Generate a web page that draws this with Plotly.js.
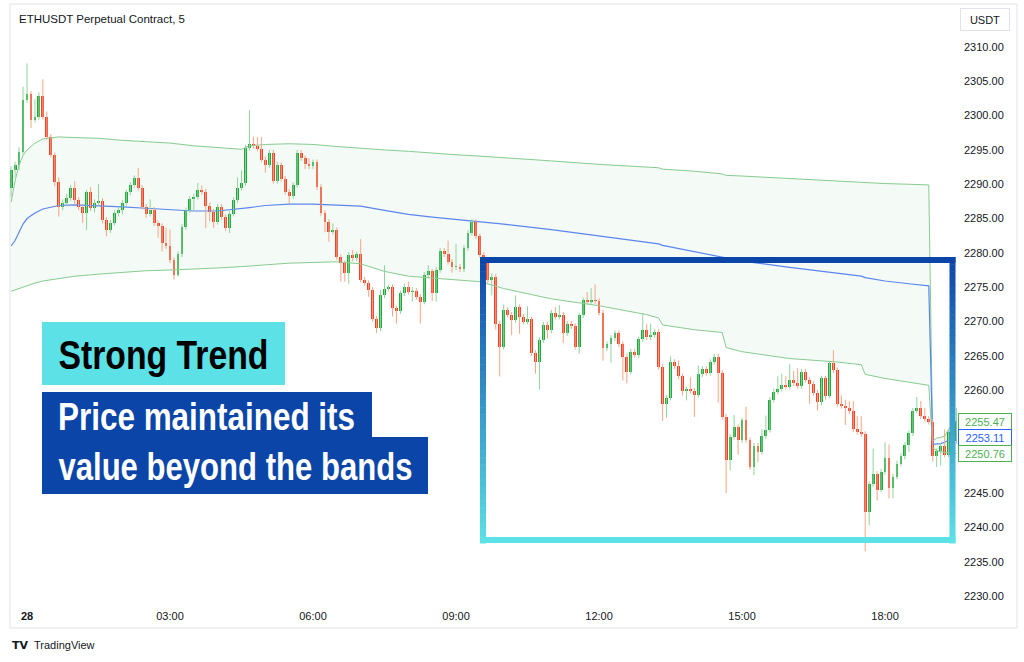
<!DOCTYPE html>
<html><head><meta charset="utf-8">
<script src="https://cdn.plot.ly/plotly-3.0.1.min.js"></script>
<style>html,body{margin:0;padding:0;background:#fff;}#chart{width:1024px;height:662px;}</style>
</head><body><div id="chart"></div>
<script>
// ---------- DATA ----------
const startHour = -20/60;      // first candle 23:40 of the previous day
const stepHour = 5/60;         // 5-minute candles
const opens = [2289.4,2292.1,2292.8,2294.7,2302.3,2303.1,2299.4,2299.8,2302.9,2299.8,
 2296.9,2294.3,2290.4,2286.7,2287.2,2288.0,2289.5,2287.7,2286.7,2285.8,
 2288.8,2286.5,2287.3,2287.6,2284.8,2283.4,2284.4,2285.8,2286.3,2287.3,
 2288.8,2289.9,2290.9,2289.5,2286.7,2285.7,2286.3,2284.3,2283.9,2281.4,
 2281.0,2278.9,2276.8,2279.8,2283.8,2286.2,2287.9,2288.2,2289.2,2288.9,
 2286.9,2286.0,2284.5,2286.7,2285.2,2283.6,2285.7,2287.7,2289.5,2290.2,
 2295.3,2295.9,2295.6,2295.2,2293.6,2292.8,2294.6,2290.5,2292.8,2290.8,
 2288.9,2288.3,2289.9,2294.6,2293.8,2292.9,2292.6,2293.2,2289.6,2285.8,
 2284.5,2283.1,2283.3,2279.4,2278.5,2277.0,2279.7,2279.2,2279.8,2276.1,
 2275.6,2274.6,2270.4,2269.0,2273.8,2274.8,2275.0,2271.9,2271.5,2274.1,
 2275.1,2274.3,2274.5,2273.6,2272.9,2276.8,2277.3,2274.1,2277.5,2280.3,
 2279.8,2278.7,2277.9,2278.0,2277.6,2280.7,2282.9,2284.5,2282.4,2279.7,
 2278.9,2276.0,2276.5,2269.7,2266.3,2271.7,2271.0,2270.2,2272.1,2270.7,
 2270.0,2270.3,2265.4,2264.1,2267.3,2269.5,2268.7,2271.3,2270.7,2271.0,
 2268.3,2269.7,2269.3,2266.3,2270.9,2273.1,2272.9,2273.1,2273.0,2271.3,
 2266.1,2266.7,2267.6,2268.3,2266.7,2264.9,2262.7,2265.6,2265.1,2267.4,
 2268.7,2267.7,2268.0,2268.5,2263.4,2258.0,2258.9,2264.1,2263.5,2262.0,
 2259.9,2260.1,2259.9,2259.3,2262.3,2263.1,2262.5,2264.1,2264.9,2262.5,
 2256.1,2249.8,2253.2,2254.6,2252.7,2255.6,2252.7,2248.8,2251.9,2251.0,
 2253.3,2254.2,2258.6,2259.8,2260.2,2260.8,2260.5,2261.5,2261.0,2260.6,
 2262.7,2261.5,2260.9,2259.6,2258.2,2261.7,2259.2,2263.9,2262.9,2258.0,
 2257.7,2257.4,2256.9,2254.3,2253.9,2253.6,2242.2,2246.3,2247.8,2245.5,
 2248.1,2250.1,2245.7,2247.4,2249.3,2250.4,2252.0,2253.7,2257.0,2257.4,
 2256.2,2255.8,2255.4,2250.4,2251.1,2251.9,2250.6,2253.9,2252.6];
const highs = [2292.6,2293.3,2295.4,2304.2,2307.6,2303.6,2302.4,2303.4,2305.3,2300.6,
 2297.3,2294.6,2291.0,2287.8,2288.6,2289.9,2290.4,2288.1,2287.1,2289.2,
 2289.6,2287.8,2290.0,2288.0,2285.2,2284.8,2286.2,2286.8,2287.7,2289.2,
 2290.3,2291.3,2292.4,2289.9,2287.1,2287.8,2286.7,2284.7,2284.3,2283.7,
 2283.4,2279.3,2280.2,2284.2,2286.6,2288.3,2288.6,2290.2,2289.8,2289.3,
 2287.3,2286.4,2287.1,2287.1,2285.6,2286.1,2288.1,2291.0,2292.0,2295.7,
 2300.8,2296.9,2296.9,2296.9,2294.0,2295.0,2295.0,2293.3,2293.2,2291.2,
 2289.3,2290.3,2295.0,2295.0,2294.2,2293.8,2293.6,2293.6,2290.0,2286.2,
 2284.9,2284.3,2283.7,2279.8,2278.9,2280.1,2280.4,2280.2,2282.0,2276.5,
 2276.0,2275.0,2270.8,2274.6,2278.2,2275.4,2275.4,2272.3,2274.5,2275.5,
 2275.8,2275.0,2274.9,2274.0,2277.2,2278.2,2277.7,2277.9,2280.7,2280.7,
 2281.8,2279.1,2281.3,2278.4,2281.1,2283.3,2284.9,2284.9,2282.8,2280.1,
 2279.3,2277.0,2276.9,2270.1,2272.5,2272.1,2271.4,2273.8,2272.5,2271.1,
 2272.2,2270.7,2265.8,2267.7,2269.9,2269.9,2271.7,2272.1,2272.4,2271.4,
 2270.1,2270.1,2269.7,2271.3,2273.5,2274.3,2274.9,2275.4,2273.4,2271.7,
 2267.1,2268.0,2268.7,2268.7,2267.1,2265.3,2266.0,2266.0,2267.8,2271.2,
 2269.6,2269.7,2268.9,2268.9,2263.8,2259.3,2264.9,2264.5,2264.3,2262.4,
 2260.5,2261.9,2260.3,2263.6,2263.5,2263.5,2264.5,2265.3,2265.3,2262.9,
 2256.5,2253.6,2256.4,2255.0,2256.0,2257.6,2253.1,2252.3,2252.3,2254.3,
 2256.3,2259.0,2260.2,2262.0,2262.4,2262.0,2263.8,2262.8,2263.2,2263.1,
 2263.1,2261.9,2261.3,2260.0,2262.1,2262.1,2264.3,2265.8,2263.3,2259.2,
 2258.6,2258.4,2258.4,2256.2,2256.2,2254.0,2246.7,2251.5,2248.2,2248.5,
 2252.4,2252.1,2247.8,2249.7,2250.8,2252.4,2254.1,2257.4,2259.0,2258.4,
 2257.4,2256.2,2255.8,2251.5,2252.3,2254.3,2254.3,2255.3,2257.4];
const lows = [2288.1,2291.0,2292.0,2294.3,2301.9,2298.2,2299.0,2299.4,2299.4,2296.5,
 2293.9,2289.7,2285.3,2286.2,2286.8,2287.6,2287.0,2286.2,2284.4,2283.3,
 2286.1,2285.9,2286.9,2284.3,2282.4,2282.9,2284.0,2285.3,2285.6,2286.9,
 2288.4,2289.5,2289.1,2286.3,2285.1,2285.3,2283.9,2282.2,2280.2,2280.6,
 2278.5,2276.1,2276.5,2279.4,2283.4,2285.8,2286.2,2287.8,2288.5,2283.6,
 2284.6,2283.6,2284.1,2284.8,2283.2,2282.9,2285.3,2287.3,2289.1,2289.8,
 2294.9,2295.2,2294.8,2293.2,2291.7,2292.4,2290.1,2290.1,2290.4,2288.5,
 2287.2,2287.9,2289.5,2293.4,2292.2,2292.2,2292.2,2289.2,2285.4,2283.0,
 2281.6,2282.7,2279.0,2275.8,2275.8,2275.5,2278.8,2278.8,2275.7,2275.2,
 2273.6,2270.0,2268.3,2268.6,2273.4,2274.4,2270.7,2269.7,2271.1,2273.7,
 2273.9,2272.9,2273.2,2269.7,2272.5,2276.4,2273.0,2272.9,2277.1,2279.4,
 2278.3,2277.1,2277.5,2277.2,2277.2,2280.3,2282.5,2282.0,2279.3,2278.2,
 2275.5,2273.8,2268.8,2262.0,2265.9,2270.6,2268.0,2269.8,2268.2,2269.6,
 2269.6,2265.0,2262.4,2260.1,2266.9,2267.5,2268.3,2270.3,2270.3,2266.9,
 2267.9,2268.9,2265.9,2265.3,2270.5,2272.5,2272.5,2272.6,2270.9,2264.3,
 2265.7,2264.0,2267.2,2266.3,2261.4,2261.0,2262.3,2264.7,2264.7,2267.0,
 2267.3,2267.3,2267.6,2263.0,2255.5,2256.0,2258.5,2263.1,2261.6,2259.2,
 2258.5,2259.5,2256.1,2258.9,2261.9,2262.1,2262.1,2263.7,2258.2,2255.7,
 2245.0,2248.3,2252.8,2250.6,2252.3,2252.3,2248.4,2247.6,2249.5,2250.6,
 2252.9,2253.8,2258.2,2259.4,2259.8,2260.1,2260.1,2260.6,2260.2,2260.2,
 2261.1,2258.0,2259.2,2257.0,2257.8,2258.6,2258.8,2262.5,2257.6,2257.3,
 2254.9,2256.5,2253.9,2253.5,2253.2,2236.5,2240.3,2245.9,2243.9,2245.1,
 2247.7,2244.2,2244.2,2247.0,2248.9,2249.9,2251.0,2253.3,2256.6,2255.8,
 2255.4,2255.0,2249.6,2248.8,2249.0,2250.2,2250.2,2252.2,2252.2];
const closes = [2292.1,2292.8,2294.7,2302.3,2303.1,2299.4,2299.8,2302.9,2299.8,2296.9,
 2294.3,2290.4,2286.7,2287.2,2288.0,2289.5,2287.7,2286.7,2285.8,2288.8,
 2286.5,2287.3,2287.6,2284.8,2283.4,2284.4,2285.8,2286.3,2287.3,2288.8,
 2289.9,2290.9,2289.5,2286.7,2285.7,2286.3,2284.3,2283.9,2281.4,2281.0,
 2278.9,2276.8,2279.8,2283.8,2286.2,2287.9,2288.2,2289.2,2288.9,2286.9,
 2286.0,2284.5,2286.7,2285.2,2283.6,2285.7,2287.7,2289.5,2290.2,2295.3,
 2295.9,2295.6,2295.2,2293.6,2292.8,2294.6,2290.5,2292.8,2290.8,2288.9,
 2288.3,2289.9,2294.6,2293.8,2292.9,2292.6,2293.2,2289.6,2285.8,2284.5,
 2283.1,2283.3,2279.4,2278.5,2277.0,2279.7,2279.2,2279.8,2276.1,2275.6,
 2274.6,2270.4,2269.0,2273.8,2274.8,2275.0,2271.9,2271.5,2274.1,2275.1,
 2274.3,2274.5,2273.6,2272.9,2276.8,2277.3,2274.1,2277.5,2280.3,2279.8,
 2278.7,2277.9,2278.0,2277.6,2280.7,2282.9,2284.5,2282.4,2279.7,2278.9,
 2276.0,2276.5,2269.7,2266.3,2271.7,2271.0,2270.2,2272.1,2270.7,2270.0,
 2270.3,2265.4,2264.1,2267.3,2269.5,2268.7,2271.3,2270.7,2271.0,2268.3,
 2269.7,2269.3,2266.3,2270.9,2273.1,2272.9,2273.1,2273.0,2271.3,2266.1,
 2266.7,2267.6,2268.3,2266.7,2264.9,2262.7,2265.6,2265.1,2267.4,2268.7,
 2267.7,2268.0,2268.5,2263.4,2258.0,2258.9,2264.1,2263.5,2262.0,2259.9,
 2260.1,2259.9,2259.3,2262.3,2263.1,2262.5,2264.1,2264.9,2262.5,2256.1,
 2249.8,2253.2,2254.6,2252.7,2255.6,2252.7,2248.8,2251.9,2251.0,2253.3,
 2254.2,2258.6,2259.8,2260.2,2260.8,2260.5,2261.5,2261.0,2260.6,2262.7,
 2261.5,2260.9,2259.6,2258.2,2261.7,2259.2,2263.9,2262.9,2258.0,2257.7,
 2257.4,2256.9,2254.3,2253.9,2253.6,2242.2,2246.3,2247.8,2245.5,2248.1,
 2250.1,2245.7,2247.4,2249.3,2250.4,2252.0,2253.7,2257.0,2257.4,2256.2,
 2255.8,2255.4,2250.4,2251.1,2251.9,2250.6,2253.9,2252.6,2255.47];

// VWAP and its bands (anchored; session resets at 19:00)
const bandT = [-0.333,-0.25,-0.167,-0.083,0,0.167,0.333,0.667,1,1.5,
 2,2.5,3,3.5,4,4.5,4.667,5,5.5,6,
 6.5,7,7.5,8,8.5,9,9.5,10,11,12,
 13,13.25,13.333,14,14.583,14.667,15,16,17,17.5,
 17.583,18,18.5,18.917,19,19.083,19.167,19.25,19.333,19.417,19.5];
const bandUpper = [2287.4,2290.5,2292.8,2294.2,2295.0,2296.0,2296.6,2296.9,2296.8,2296.7,
 2296.4,2296.2,2296.0,2295.6,2295.3,2295.1,2295.6,2295.8,2295.9,2295.8,
 2295.5,2295.2,2295.0,2294.8,2294.5,2294.3,2294.1,2293.9,2293.4,2292.9,
 2292.5,2292.4,2292.2,2291.9,2291.5,2291.3,2291.2,2290.8,2290.5,2290.3,
 2290.2,2290.1,2290.0,2289.9,2252.6,2253.0,2253.1,2253.3,2254.3,2255.0,2255.47];
const bandVwap = [2281.0,2281.8,2283.0,2284.2,2285.0,2285.8,2286.4,2286.9,2287.0,2286.9,
 2286.7,2286.5,2286.3,2286.1,2286.1,2286.4,2286.6,2286.9,2287.1,2287.1,
 2287.0,2286.8,2286.2,2285.6,2285.2,2284.9,2284.6,2284.2,2283.4,2282.5,
 2281.5,2281.3,2281.1,2280.2,2279.4,2279.2,2278.8,2277.9,2277.1,2276.6,
 2276.4,2275.9,2275.5,2275.2,2252.1,2252.1,2252.2,2252.4,2252.7,2253.0,2253.11];
const bandLower = [2274.4,2274.6,2274.9,2275.1,2275.3,2275.6,2275.9,2276.3,2276.6,2276.9,
 2277.2,2277.4,2277.5,2277.6,2277.8,2278.0,2278.1,2278.3,2278.5,2278.6,
 2278.7,2278.4,2277.3,2276.6,2276.3,2276.1,2275.8,2274.8,2273.3,2272.3,
 2271.0,2270.5,2269.5,2268.8,2268.4,2266.2,2265.6,2264.6,2264.1,2263.7,
 2262.3,2261.7,2261.1,2260.7,2251.6,2251.2,2251.0,2250.9,2250.8,2250.8,2250.76];

const xTickVals = [0,3,6,9,12,15,18];
const xTickText = ['<b>28</b>','03:00','06:00','09:00','12:00','15:00','18:00'];
const yTickVals = [2230,2235,2240,2245,2250,2255,2260,2265,2270,2275,2280,2285,2290,2295,2300,2305,2310];
const hiddenTicks = [2250, 2255];   // covered by the last-value labels
const lastLabels = [
  {value: 2255.47, color: '#4caf50'},
  {value: 2253.11, color: '#2962ff'},
  {value: 2250.76, color: '#4caf50'}
];

// ---------- STYLE / LAYOUT ----------
const UP = '#1fa83b', DN = '#f2402c', WUP = '#8fd49c', WDN = '#f7a583';
const L = 10, R = 957, T = 8, B = 604;
const px = x => (x - L) / (R - L);
const py = y => (B - y) / (B - T);

const times = closes.map((_, i) => startHour + i * stepHour);

function wickTrace(up) {
  const xs = [], ys = [];
  closes.forEach((c, i) => {
    if ((c >= opens[i]) === up) { xs.push(times[i], times[i], null); ys.push(lows[i], highs[i], null); }
  });
  return {type: 'scatter', mode: 'lines', x: xs, y: ys, hoverinfo: 'skip',
          line: {color: up ? WUP : WDN, width: 1}, showlegend: false};
}

const bodyBase = closes.map((c, i) => Math.min(c, opens[i]));
const bodyLen = closes.map((c, i) => Math.max(Math.abs(c - opens[i]), 0.12));
const bodyCol = closes.map((c, i) => c >= opens[i] ? UP : DN);

const traces = [
  {type: 'scatter', mode: 'lines', x: bandT, y: bandUpper, line: {color: '#86cc8f', width: 1}, hoverinfo: 'skip', showlegend: false},
  {type: 'scatter', mode: 'lines', x: bandT, y: bandLower, line: {color: '#86cc8f', width: 1}, fill: 'tonexty',
   fillcolor: 'rgba(76,175,80,0.06)', hoverinfo: 'skip', showlegend: false},
  {type: 'scatter', mode: 'lines', x: bandT, y: bandVwap, line: {color: '#5b86ee', width: 1.2}, hoverinfo: 'skip', showlegend: false},
  wickTrace(true), wickTrace(false),
  {type: 'bar', x: times, y: bodyLen, base: bodyBase, width: stepHour * 0.72,
   marker: {color: bodyCol, line: {width: 0}}, hoverinfo: 'skip', showlegend: false}
];

// gradient box
function mix(a, b, f) {
  const pa = [1,3,5].map(k => parseInt(a.substr(k,2),16)), pb = [1,3,5].map(k => parseInt(b.substr(k,2),16));
  return 'rgb(' + pa.map((v, j) => Math.round(v + (pb[j] - v) * f)).join(',') + ')';
}
const BOX_TOP = '#0c45a8', BOX_BOT = '#5ce1e6';
const shapes = [];
function rectPx(x0, y0, x1, y1, color, layer) {
  shapes.push({type: 'rect', xref: 'paper', yref: 'paper', x0: px(x0), x1: px(x1), y0: py(y1), y1: py(y0),
               fillcolor: color, line: {width: 0}, layer: layer || 'above'});
}
shapes.push({type: 'rect', xref: 'paper', yref: 'paper', x0: px(10), x1: px(1017), y0: py(628), y1: py(4),
             line: {color: '#e0e3eb', width: 1}, fillcolor: 'rgba(0,0,0,0)', layer: 'below'});
const N = 40, yTop = 257, yBot = 543;
for (let k = 0; k < N; k++) {
  const y0 = yTop + (yBot - yTop) * k / N, y1 = yTop + (yBot - yTop) * (k + 1) / N + 0.5;
  const col = mix(BOX_TOP, BOX_BOT, (k + 0.5) / N);
  rectPx(480, y0, 486, y1, col);
  rectPx(949.5, y0, 955.5, y1, col);
}
rectPx(480, 257, 955.5, 263, BOX_TOP);
rectPx(480, 537, 955.5, 543, BOX_BOT);
rectPx(42, 322, 285, 385, '#5ce1e6');
rectPx(42, 392, 372, 494, '#0c45a8');
rectPx(42, 437, 428, 494, '#0c45a8');

// big captions: [text, left px, centre y px, target width px, size, colour]
const captions = [
  ['Strong Trend', 58, 355, 210, 40, '#000000'],
  ['Price maintained its', 58, 417, 297, 38, '#ffffff'],
  ['value beyond the bands', 58, 467, 354, 38, '#ffffff']
];
const annotations = [
  {xref: 'paper', yref: 'paper', x: px(17), y: py(19), xanchor: 'left', yanchor: 'middle', showarrow: false,
   text: 'ETHUSDT Perpetual Contract, 5', font: {family: 'Liberation Sans, sans-serif', size: 11.5, color: '#131722'}},
  {xref: 'paper', yref: 'paper', x: px(985), y: py(19.5), xanchor: 'center', yanchor: 'middle', showarrow: false,
   text: 'USDT', width: 46, height: 19, bordercolor: '#e0e3eb', borderwidth: 1, borderpad: 1, bgcolor: '#fff',
   font: {family: 'Liberation Sans, sans-serif', size: 11, color: '#131722'}},
  {xref: 'paper', yref: 'paper', x: px(10), y: py(645), xanchor: 'left', yanchor: 'middle', showarrow: false,
   text: '<b>TV</b>', font: {family: 'DejaVu Sans, sans-serif', size: 11, color: '#131722'}},
  {xref: 'paper', yref: 'paper', x: px(32), y: py(645), xanchor: 'left', yanchor: 'middle', showarrow: false,
   text: 'TradingView', font: {family: 'Liberation Sans, sans-serif', size: 11, color: '#131722'}}
];
const capStart = annotations.length;
captions.forEach(c => annotations.push({
  xref: 'paper', yref: 'paper', x: px(c[1] + c[3] / 2), y: py(c[2]), xanchor: 'center', yanchor: 'middle', showarrow: false,
  text: c[0], font: {family: 'Liberation Sans, Arial, sans-serif', size: c[4], color: c[5], weight: 700}
}));
lastLabels.forEach(l => annotations.push({
  xref: 'paper', yref: 'y', x: 1, y: l.value, xanchor: 'left', yanchor: 'middle', xshift: 1, showarrow: false,
  text: l.value.toFixed(2), width: 50, height: 13, borderpad: 1, bgcolor: '#ffffff', bordercolor: l.color, borderwidth: 1,
  font: {family: 'Liberation Sans, sans-serif', size: 11, color: l.color}
}));

const layout = {
  width: 1024, height: 662,
  margin: {l: L, r: 1024 - R, t: T, b: 662 - B, pad: 0},
  paper_bgcolor: '#ffffff', plot_bgcolor: '#ffffff',
  showlegend: false, bargap: 0,
  xaxis: {range: [(L - 27) / 47.67, (R - 27) / 47.67], tickvals: xTickVals, ticktext: xTickText,
          showgrid: false, zeroline: false, showline: false, ticks: '', fixedrange: true,
          tickfont: {family: 'Liberation Sans, sans-serif', size: 11, color: '#131722'}, ticklabelstandoff: 4},
  yaxis: {range: [2230 - (B - 596) / 6.8625, 2310 + (47 - T) / 6.8625], side: 'right',
          tickvals: yTickVals, ticktext: yTickVals.map(v => hiddenTicks.includes(v) ? '' : v.toFixed(2)),
          showgrid: false, zeroline: false, showline: false, ticks: '', fixedrange: true, ticklabelstandoff: 6,
          tickfont: {family: 'Liberation Sans, sans-serif', size: 11, color: '#131722'}},
  shapes: shapes, annotations: annotations
};

Plotly.newPlot('chart', traces, layout, {staticPlot: true, displayModeBar: false}).then(gd => {
  // condense the caption text to the narrow width used in the reference
  captions.forEach((c, k) => {
    const t = gd.querySelector('.annotation[data-index="' + (capStart + k) + '"] text.annotation-text');
    if (t) { t.setAttribute('textLength', c[3]); t.setAttribute('lengthAdjust', 'spacingAndGlyphs'); }
  });
});
</script>
</body></html>
